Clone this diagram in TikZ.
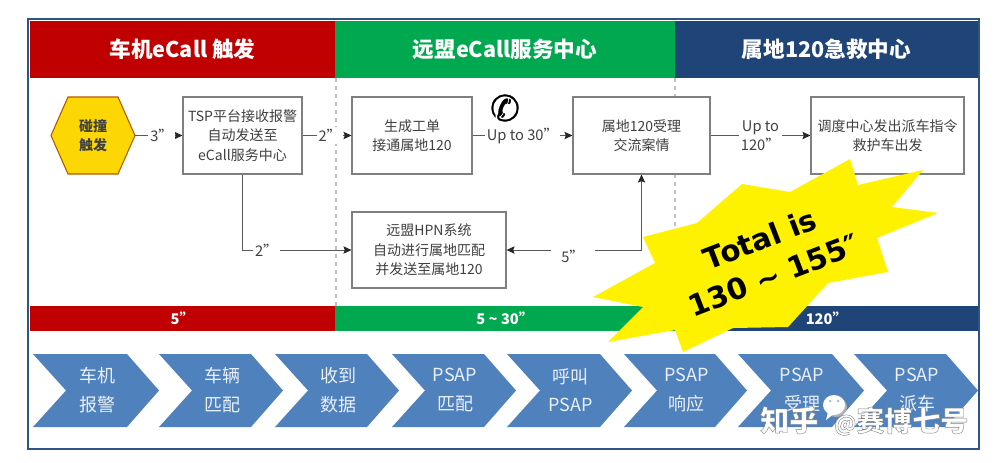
\documentclass[tikz,border=0pt]{standalone}
\usepackage{fontspec}
\setmainfont{Noto Sans CJK SC}
\newfontfamily\starfont{DejaVu Sans}
\newfontfamily\iconfont{DejaVu Sans}
\usetikzlibrary{arrows.meta}
\definecolor{barred}{HTML}{C00000}
\definecolor{bargreen}{HTML}{00A84F}
\definecolor{barblue}{HTML}{1F4478}
\definecolor{framecol}{HTML}{2F5583}
\definecolor{boxline}{HTML}{7F7F7F}
\definecolor{boxtext}{HTML}{404040}
\definecolor{chevcol}{HTML}{4F81BD}
\tikzset{
  header/.style={minimum height=57*0.75pt,inner sep=0pt,text=white,font=\fontsize{16.2}{20}\selectfont\bfseries},
  footer/.style={minimum height=25*0.75pt,inner sep=0pt,text=white,font=\fontsize{11}{12}\selectfont\bfseries},
  stepbox/.style={draw=boxline,fill=white,line width=0.8pt,align=center,text=boxtext,inner sep=0pt,
    minimum height=77*0.75pt,font=\fontsize{10.5}{14.5}\selectfont},
  link/.style={draw=black!65,line width=0.75pt,-{Stealth[inset=1pt,length=6pt,width=5.5pt,black!85]}},
  linklabel/.style={fill=white,inner sep=1.5pt,text=boxtext,align=center,font=\fontsize{11}{14}\selectfont},
  chevtext/.style={text=white!88!chevcol,align=center,font=\fontsize{13.5}{21.5}\selectfont},
  zone/.style={draw=gray!50,dashed,line width=0.8pt},
}
\newcommand{\chevron}[4]{% left x, right x, name, text
  \fill[chevcol] (#1,354) -- (#2-32,354) -- (#2,390.5) -- (#2-32,427) -- (#1,427) -- (#1+33,390.5) -- cycle;
  \node[chevtext] (#3) at ({(#1+#2)/2+1},390) {#4};
}
\begin{document}
\begin{tikzpicture}[x=0.75pt,y=-0.75pt]
  \useasboundingbox (0,0) rectangle (1002,462);
  \fill[white] (0,0) rectangle (1002,462);
  \draw[framecol,line width=2.2pt] (28,19) rectangle (979,449);

  % header and footer bars
  \node[header,fill=barred,minimum width=305*0.75pt] (headcar) at (182.5,49.5) {车机eCall 触发};
  \node[header,fill=bargreen,minimum width=340*0.75pt] (headcall) at (505,49.5) {远盟eCall服务中心};
  \node[header,fill=barblue,minimum width=303*0.75pt] (headlocal) at (826.5,49.5) {属地120急救中心};
  \node[footer,fill=barred,minimum width=305*0.75pt] (footcar) at (182.5,318.5) {5"};
  \node[footer,fill=bargreen,minimum width=340*0.75pt] (footcall) at (505,318.5) {5 \textasciitilde{} 30"};
  \node[footer,fill=barblue,minimum width=303*0.75pt] (footlocal) at (826.5,318.5) {120"};

  \draw[zone] (336,78) -- (336,306);
  \draw[zone] (675,78) -- (675,306);

  % flow
  \fill[yellow!75!orange,draw=black!30!orange,line width=0.8pt] (51,135.5) -- (68,97) -- (118,97) -- (135,135.5) -- (118,174) -- (68,174) -- cycle;
  \node[minimum width=84*0.75pt,minimum height=77*0.75pt,inner sep=0pt,text=boxtext,align=center,
    font=\fontsize{10.5}{14.5}\selectfont\bfseries] (crash) at (93,135.5) {碰撞\\触发};
  \node[stepbox,minimum width=119*0.75pt] (tsp) at (242.5,135.5) {TSP平台接收报警\\自动发送至\\eCall服务中心};
  \node[stepbox,minimum width=120*0.75pt] (order) at (412,135.5) {生成工单\\接通属地120};
  \node[stepbox,minimum width=137*0.75pt] (accept) at (641.5,135.5) {属地120受理\\交流案情};
  \node[stepbox,minimum width=153*0.75pt] (dispatch) at (887.5,135.5) {调度中心发出派车指令\\救护车出发};
  \node[stepbox,minimum width=154*0.75pt,minimum height=76*0.75pt] (hpn) at (429,250) {远盟HPN系统\\自动进行属地匹配\\并发送至属地120};
  \coordinate (turn) at (accept.south |- hpn.east);

  \draw[link] (crash) -- node[linklabel,pos=.56] (lab3) {3"} (tsp);
  \draw[link] (tsp) -- node[linklabel,pos=.56] (lab2) {2"} (order);
  \draw[link] (order) -- node[linklabel,pos=.5] (lab30) {Up to 30"} (accept);
  \draw[link] (accept) -- node[linklabel] (lab120) {Up to\\120"} (dispatch);
  \draw[link] (tsp.south) |- node[linklabel,pos=.61] (lab2b) {2"} (hpn.west);
  \draw[link] (turn) -- node[linklabel,pos=.51,yshift=-5,minimum width=33pt] (lab5) {5"} (hpn.east);
  \draw[link] (turn) -- (accept.south);

  \node[inner sep=0pt,font=\iconfont\fontsize{27}{27}\selectfont] (phone) at (505,108) {\special{pdf:code 2 Tr 0.12 w}✆\special{pdf:code 0 Tr}};

  % burst
  \fill[yellow] (850,159) -- (858,185) -- (923,170) -- (892,207) -- (938,213) -- (877,238) -- (888,272)
    -- (828,283) -- (788,327) -- (733,328) -- (683,352) -- (675,330) -- (608,342) -- (643,307)
    -- (593,297) -- (655,263) -- (643,237) -- (697,223) -- (742,184) -- (790,192) -- cycle;
  \node[rotate=21,align=center,text=black,inner sep=0pt,
    font=\starfont\fontsize{22}{29}\selectfont\bfseries] (total) at (767,257) {Total is\\130 \textasciitilde{} 155″};

  % chevrons
  \chevron{33}{159}{chevA}{车机\\报警}
  \chevron{159}{283}{chevB}{车辆\\匹配}
  \chevron{275}{399}{chevC}{收到\\数据}
  \chevron{392}{516}{chevD}{PSAP\\匹配}
  \chevron{507}{632}{chevE}{呼叫\\PSAP}
  \chevron{624}{747}{chevF}{PSAP\\响应}
  \chevron{738}{864}{chevG}{PSAP\\受理}
  \chevron{854}{978}{chevH}{PSAP\\派车}

  % mark in the corner
  \fill[gray!60] (836,407) ellipse (11 and 10);
  \fill[white] (834,405) ellipse (11 and 10);
  \fill[white] (828,412) -- (826,420) -- (835,413) -- cycle;
  \fill[chevcol!50] (830,401) circle (1.5) (838,401) circle (1.5);
  \node[text=white,inner sep=0pt,anchor=west,font=\fontsize{21.7}{24}\selectfont\bfseries] (mark) at (760,421)
    {\special{pdf:code 2 Tr 0.3 w 0.5 0.5 0.5 RG}知乎\hspace{12pt}{\fontsize{16}{24}\selectfont @}{\fontsize{21}{24}\selectfont 赛博七号}\special{pdf:code 0 Tr}};
\end{tikzpicture}
\end{document}
